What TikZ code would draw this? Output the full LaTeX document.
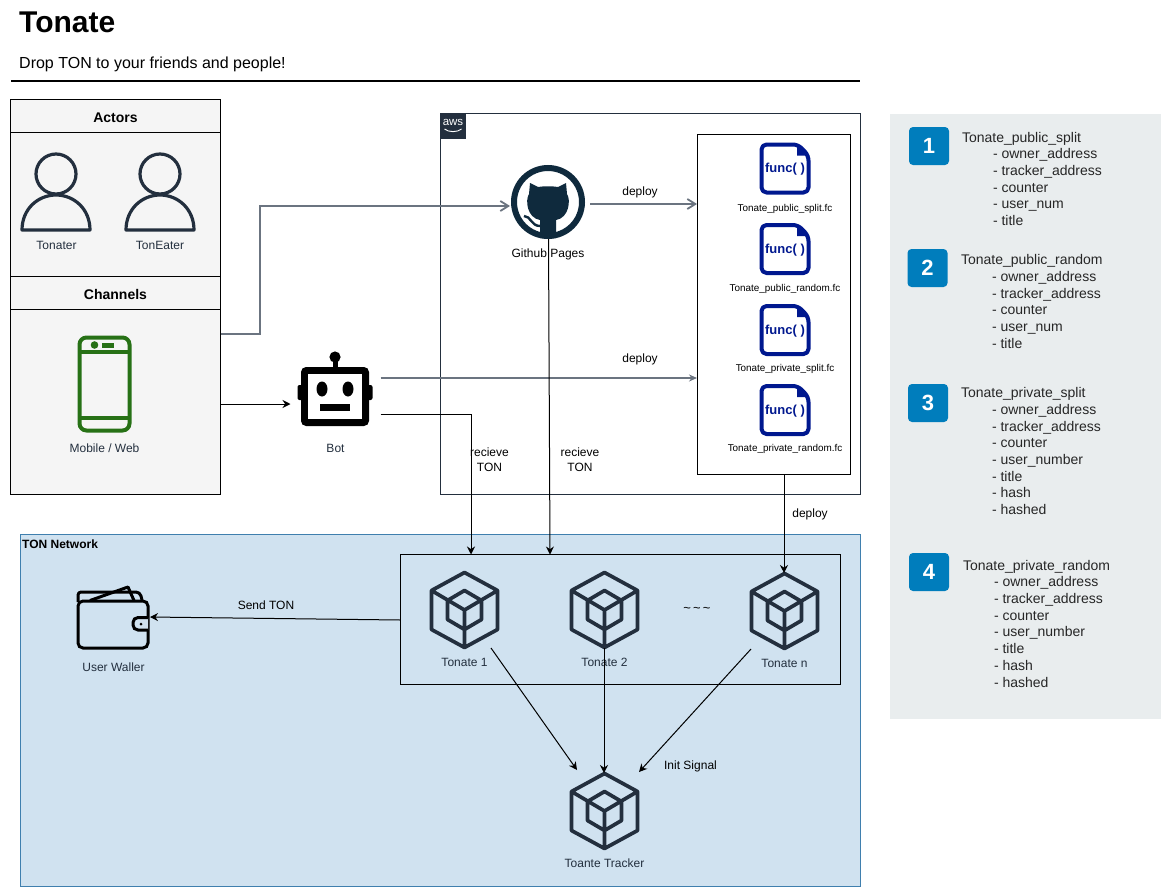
\documentclass[tikz,border=0pt]{standalone}
\usepackage{fontspec}
\setmainfont{Liberation Sans}
\usetikzlibrary{arrows.meta}
\definecolor{awsdark}{HTML}{232F3E}
\definecolor{panelgrey}{HTML}{F5F5F5}
\definecolor{linegrey}{HTML}{6B7480}
\definecolor{tonblue}{HTML}{D0E2F0}
\definecolor{tonedge}{HTML}{3F7FAE}
\definecolor{sidegrey}{HTML}{E9EDEE}
\definecolor{badgeblue}{HTML}{007DBC}
\definecolor{funcnavy}{HTML}{00188F}
\definecolor{phonegreen}{HTML}{277116}
\definecolor{ghdark}{HTML}{0F2A3D}
\newcommand{\fsz}[1]{\fontsize{#1}{#1}\selectfont}
\tikzset{
  x=1pt,y=-1pt,
  anchorbox/.style={inner sep=0,outer sep=0,line width=1pt},
  panel/.style={anchorbox,draw=black,fill=panelgrey},
  label/.style={inner sep=0,outer sep=0,text=awsdark,font=\fsz{12}},
  blacklabel/.style={inner sep=0,outer sep=0,text=black,font=\fsz{12}},
  flabel/.style={inner sep=0,outer sep=0,text=black,font=\fsz{9.9}},
  arrow/.style={draw=black,line width=1pt,-{Stealth[length=8pt,width=8pt]}},
  grayarrow/.style={draw=linegrey,line width=2.2pt,-{Straight Barb[length=8pt,width=10pt,line width=1.8pt]}},
  thingray/.style={draw=linegrey,line width=1.5pt,-{Stealth[length=8pt,width=7pt]}},
  badge/.style={anchorbox,fill=badgeblue,rounded corners=4pt,minimum width=40pt,minimum height=38pt,text=white,font=\bfseries\fsz{22}},
  listing/.style={inner sep=0,outer sep=0,anchor=north west,align=left,text=black!85,font=\fontsize{14}{16.7}\selectfont},
  cube/.pic={
    \draw[awsdark,line width=3.7pt,line join=round]
      (0,-37.5)--(33,-19.5)--(33,19.5)--(0,37.5)--(-33,19.5)--(-33,-19.5)--cycle
      (0,-19.5)--(17,-9.5)--(17,9.5)--(0,19.5)--(-17,9.5)--(-17,-9.5)--cycle
      (-33,-19.5)--(0,0)--(33,-19.5) (0,0)--(0,37.5);
  },
  person/.pic={
    \draw[awsdark,line width=3.2pt] (0,-56) circle[radius=20];
    \draw[awsdark,line width=3.2pt,line join=round] (-34,0) .. controls (-34,-21) and (-18,-35) .. (0,-35) .. controls (18,-35) and (34,-21) .. (34,0) -- cycle;
  },
  funcicon/.pic={
    \draw[funcnavy,line width=4pt,rounded corners=5pt,line join=round]
      (-23.5,-24) -- (13,-24) -- (23.5,-13) -- (23.5,24) -- (-23.5,24) -- cycle;
    \fill[funcnavy] (12,-25) -- (24.5,-13) -- (12,-13) -- cycle;
    \node[inner sep=0,text=funcnavy,font=\bfseries\fsz{13}] at (0,1) {func( )};
  }
}
\begin{document}
\begin{tikzpicture}
\useasboundingbox (0,0) rectangle (1161,886);
\fill[white] (0,0) rectangle (1161,886);

% title
\node[inner sep=0,anchor=base west,font=\bfseries\fsz{30}] (title) at (19,32) {Tonate};
\node[inner sep=0,anchor=base west,font=\fsz{16}] (subtitle) at (19,68) {Drop TON to your friends and people!};
\coordinate (ruleL) at (11,81);
\coordinate (ruleR) at (860,81);
\draw[line width=2pt] (ruleL) -- (ruleR);

% left column
\node[panel,minimum width=210pt,minimum height=144pt] (actors) at (115.5,204.5) {};
\node[panel,minimum width=210pt,minimum height=33pt] (actorshead) at (115.5,116) {};
\node[inner sep=0,font=\bfseries\fsz{14}] (actorstext) at (115.5,118) {Actors};
\node[panel,minimum width=210pt,minimum height=185pt] (chan) at (115.5,401.5) {};
\node[panel,minimum width=210pt,minimum height=33pt] (chanhead) at (115.5,292.5) {};
\node[inner sep=0,font=\bfseries\fsz{14}] (chantext) at (115.5,294.5) {Channels};
\pic at (56,230) {person};
\pic at (160,230) {person};
\node[label] (tonater) at (56.5,245) {Tonater};
\node[label] (toneater) at (160,245) {TonEater};
% phone
\node[anchorbox,minimum width=50pt,minimum height=93pt] (phone) at (104.5,384) {};
\draw[phonegreen,line width=4pt,rounded corners=7pt] (phone.north west) rectangle (phone.south east);
\draw[phonegreen,line width=3.6pt] (80,352) -- (129,352) (80,418) -- (129,418);
\fill[phonegreen] (94.5,345) circle[radius=3.8];
\fill[phonegreen] (102,343) rectangle (114,347.5);
\node[label] (mobile) at (104.5,448) {Mobile / Web};

% AWS group
\node[anchorbox,draw=awsdark,minimum width=419.5pt,minimum height=380.5pt] (aws) at (650.25,303.75) {};
\node[anchorbox,fill=awsdark,minimum width=25pt,minimum height=25pt] (awslogo) at (453,126) {};
\node[inner sep=0,text=white,font=\fsz{11.5}] (awstext) at (453,122.5) {aws};
\draw[white,line width=.9pt] (444.5,129) .. controls (449,132.5) and (457,132.5) .. (461.5,129);

% github
\node[anchorbox,minimum width=80pt,minimum height=70pt] (gh) at (550,204) {};
\begin{scope}[shift={(548,202)}]
  \draw[ghdark,fill=white,line width=6pt] (0,0) circle[radius=34];
  \fill[ghdark] (-18,-19) -- (-10,-15) .. controls (-4,-16) and (4,-16) .. (10,-15) -- (18,-19) -- (19,-8)
    .. controls (23,-2) and (21,16) .. (8,18) -- (8,36) -- (-8,36) -- (-8,18)
    .. controls (-21,16) and (-23,-2) .. (-19,-8) -- cycle;
  \draw[ghdark,line width=2.4pt] (-24,14) .. controls (-17,14) and (-17,24) .. (-8,24);
\end{scope}
\node[blacklabel] (ghlabel) at (548,254) {Github Pages};

% func box
\node[anchorbox,draw=black,fill=white,minimum width=153.5pt,minimum height=339.5pt] (funcs) at (773.75,304.25) {};
\pic at (785,168.5) {funcicon};
\pic at (785,249) {funcicon};
\pic at (785,330) {funcicon};
\pic at (785,410) {funcicon};
\node[flabel] (f1) at (785,208.5) {Tonate\_public\_split.fc};
\node[flabel] (f2) at (785,288.5) {Tonate\_public\_random.fc};
\node[flabel] (f3) at (785,368.5) {Tonate\_private\_split.fc};
\node[flabel] (f4) at (785,449) {Tonate\_private\_random.fc};

% bot
\node[anchorbox,minimum width=90pt,minimum height=72pt] (bot) at (335.5,396) {};
\fill[black,rounded corners=2pt] (297.5,385) rectangle (372.5,400);
\fill[black,rounded corners=5pt] (301,367) rectangle (369,426);
\fill[white] (308,374) rectangle (362,419);
\fill[black] (333,358) rectangle (337.5,368);
\fill[black] (335,357) circle[radius=5.6];
\fill[black] (322,389) ellipse[x radius=5.5,y radius=7.5];
\fill[black] (348,389) ellipse[x radius=5.5,y radius=7.5];
\fill[black] (320,404) rectangle (350,411);
\node[blacklabel,text=awsdark] (botlabel) at (335.5,448) {Bot};

% TON network
\node[anchorbox,draw=tonedge,fill=tonblue,minimum width=840pt,minimum height=352pt] (ton) at (440,710) {};
\node[inner sep=0,anchor=west,font=\bfseries\fsz{12}] (tonlabel) at (22,544) {TON Network};
\node[anchorbox,draw=black,minimum width=440pt,minimum height=130pt] (contracts) at (620.5,619.5) {};
\pic at (464.5,610) {cube};
\pic at (604.5,610) {cube};
\pic at (784.5,611) {cube};
\pic at (604.5,811) {cube};
\node[anchorbox,minimum width=66pt,minimum height=76pt] (t1) at (464,610) {};
\node[anchorbox,minimum width=66pt,minimum height=76pt] (t2) at (604,610) {};
\node[anchorbox,minimum width=66pt,minimum height=76pt] (tn) at (784,611) {};
\node[anchorbox,minimum width=66pt,minimum height=76pt] (tracker) at (604,811) {};
\node[label] (t1l) at (464.5,662) {Tonate 1};
\node[label] (t2l) at (604.5,662) {Tonate 2};
\node[label] (tnl) at (784.5,663) {Tonate n};
\node[label] (trl) at (604.5,863) {Toante Tracker};
\node[inner sep=0,font=\fsz{13}] (dots) at (697,610) {\char`\~\,\char`\~\,\char`\~};

% wallet
\node[anchorbox,minimum width=72pt,minimum height=47pt] (wallet) at (114,624.5) {};
\draw[black,line width=3pt,rounded corners=5pt] (78,601) rectangle (148,648);
\draw[black,line width=3pt,line join=round,rounded corners=3pt] (78,602) -- (78,592) -- (130,592);
\draw[black,line width=3pt,line join=round] (90,600.5) -- (128,587) -- (134,600.5);
\draw[black,line width=3pt,rounded corners=4pt] (131,592) -- (140,592) -- (142,600);
\draw[black,line width=3pt,fill=tonblue,rounded corners=5pt] (148,617.5) -- (133,617.5) -- (133,630) -- (148,630);
\fill[black] (141,624) circle[radius=1.5];
\node[label] (walletl) at (113.5,667) {User Waller};

% connectors
\coordinate (g1) at (260,334);
\coordinate (g2) at (260,206);
\draw[grayarrow] ([yshift=67.5pt]chan.east) -- (g1) -- (g2) -- ([yshift=-2pt]gh.west);
\draw[grayarrow] (gh.east) -- (funcs.west |- gh.east);
\draw[thingray] ([yshift=18pt]bot.east) -- (funcs.west |- 0,378);
\draw[arrow] ([yshift=-2.5pt]chan.east) -- ([yshift=-8pt]bot.west);
\coordinate (b1) at (471,414);
\draw[arrow] ([yshift=-18pt]bot.east) -- (b1) -- (b1 |- contracts.north);
\draw[arrow] ([xshift=-1.5pt]gh.south) -- (gh.south |- contracts.north);
\draw[arrow] (funcs.south -| tn.north) -- (tn.north);
\draw[arrow] ([yshift=-.5pt]contracts.west) -- ([yshift=7.5pt]wallet.east);
\draw[arrow] ([xshift=27pt]t1.south) -- ([xshift=-27pt,yshift=3pt]tracker.north);
\draw[arrow] (t2.south) -- (tracker.north);
\draw[arrow] ([xshift=-33pt]tn.south) -- ([xshift=35pt,yshift=1pt]tracker.north);

% connector labels
\node[blacklabel] (d1) at (640,192.5) {deploy};
\node[blacklabel] (d2) at (640,359.5) {deploy};
\node[blacklabel] (d3) at (810,514.5) {deploy};
\node[blacklabel,align=center,font=\fontsize{12}{15}\selectfont] (r1) at (489.5,460) {recieve\\TON};
\node[blacklabel,align=center,font=\fontsize{12}{15}\selectfont] (r2) at (580,460) {recieve\\TON};
\node[blacklabel] (send) at (266,605) {Send TON};
\node[blacklabel] (init) at (690.5,766) {Init Signal};

% side panel
\node[anchorbox,fill=sidegrey,minimum width=271pt,minimum height=605pt] (side) at (1025.5,416.5) {};
\node[badge] (b1n) at (929,146) {1};
\node[badge] (b2n) at (927.5,268) {2};
\node[badge] (b3n) at (928,403) {3};
\node[badge] (b4n) at (929,572) {4};
\node[listing] (l1) at (962,132) {Tonate\_public\_split\\
\hspace*{31pt}- owner\_address\\\hspace*{31pt}- tracker\_address\\\hspace*{31pt}- counter\\\hspace*{31pt}- user\_num\\\hspace*{31pt}- title};
\node[listing] (l2) at (961,254.5) {Tonate\_public\_random\\
\hspace*{31pt}- owner\_address\\\hspace*{31pt}- tracker\_address\\\hspace*{31pt}- counter\\\hspace*{31pt}- user\_num\\\hspace*{31pt}- title};
\node[listing] (l3) at (961,387.5) {Tonate\_private\_split\\
\hspace*{31pt}- owner\_address\\\hspace*{31pt}- tracker\_address\\\hspace*{31pt}- counter\\\hspace*{31pt}- user\_number\\\hspace*{31pt}- title\\\hspace*{31pt}- hash\\\hspace*{31pt}- hashed};
\node[listing] (l4) at (963,560) {Tonate\_private\_random\\
\hspace*{31pt}- owner\_address\\\hspace*{31pt}- tracker\_address\\\hspace*{31pt}- counter\\\hspace*{31pt}- user\_number\\\hspace*{31pt}- title\\\hspace*{31pt}- hash\\\hspace*{31pt}- hashed};
\end{tikzpicture}
\end{document}
